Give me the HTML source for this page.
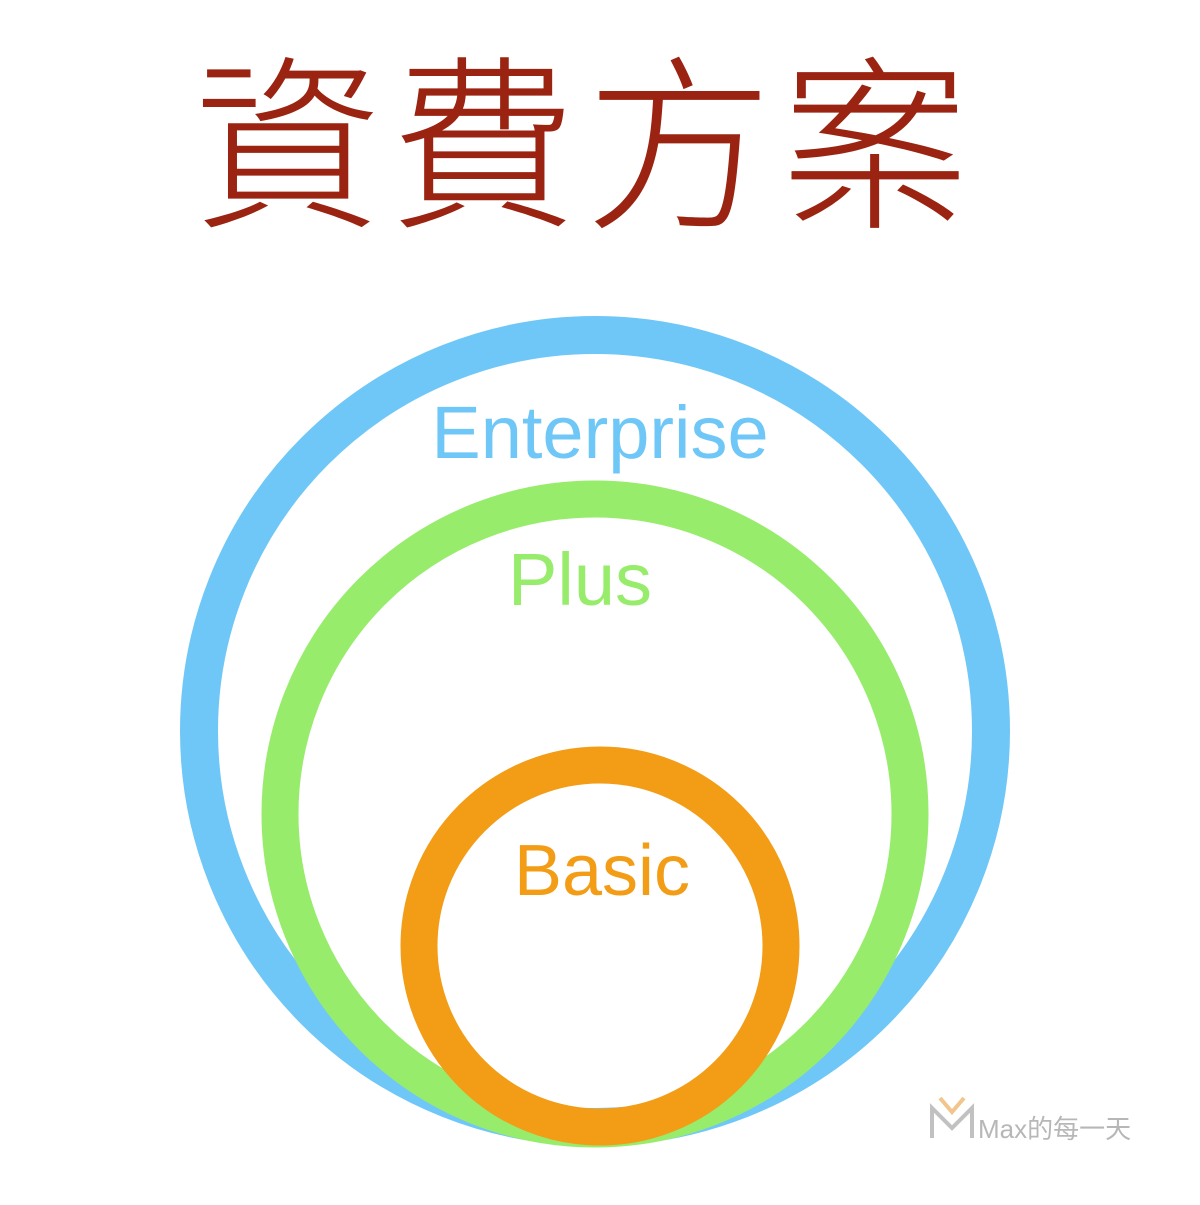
<!DOCTYPE html>
<html><head><meta charset="utf-8"><style>
html,body{margin:0;padding:0;background:#fff;}
</style></head><body>
<svg width="1200" height="1200" viewBox="0 0 1200 1200" xmlns="http://www.w3.org/2000/svg">
<rect width="1200" height="1200" fill="#fff"/>
<text x="585" y="214" text-anchor="middle" font-family="'Noto Sans CJK TC','Noto Sans CJK SC',sans-serif" font-weight="300" font-size="188" fill="#9a2411" letter-spacing="8">資費方案</text>
<circle cx="595" cy="731" r="396" fill="none" stroke="#6fc7f7" stroke-width="38"/>
<circle cx="595" cy="814" r="315" fill="none" stroke="#98ec6c" stroke-width="37"/>
<circle cx="600" cy="946" r="181" fill="none" stroke="#f39c16" stroke-width="37"/>
<text x="600" y="458" text-anchor="middle" font-family="'Liberation Sans',sans-serif" font-size="74" fill="#6fc7f7">Enterprise</text>
<text x="580" y="605" text-anchor="middle" font-family="'Liberation Sans',sans-serif" font-size="74" fill="#98ec6c">Plus</text>
<text x="602" y="895" text-anchor="middle" font-family="'Liberation Sans',sans-serif" font-size="72" fill="#f39c16">Basic</text>
<g opacity="0.6">
<path d="M932 1138 L932 1108 L952 1128 L972 1108 L972 1138" fill="none" stroke="#999" stroke-width="4"/>
<path d="M940 1098 L952 1112 L964 1098" fill="none" stroke="#e8a040" stroke-width="4"/>
<text x="978" y="1138" font-family="'Liberation Sans','Noto Sans CJK TC',sans-serif" font-size="26" fill="#888">Max的每一天</text>
</g>
</svg>
</body></html>
